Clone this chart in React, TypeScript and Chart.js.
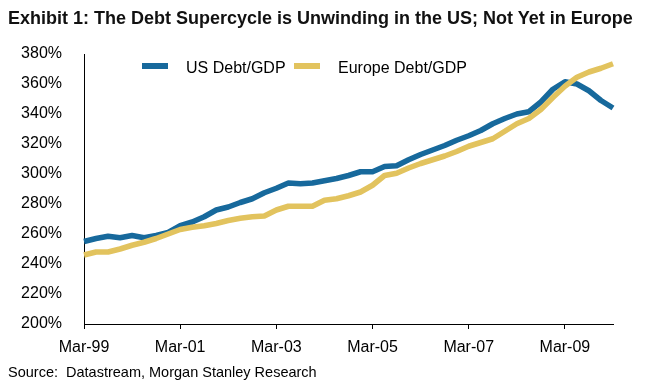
import React, { useEffect, useRef } from "react";
import { Chart, registerables } from "chart.js";

Chart.register(...registerables);

const TITLE = "Exhibit 1: The Debt Supercycle is Unwinding in the US; Not Yet in Europe";
const SOURCE = "Source:  Datastream, Morgan Stanley Research";

const quarters = [
  "Mar-99", "Jun-99", "Sep-99", "Dec-99",
  "Mar-00", "Jun-00", "Sep-00", "Dec-00",
  "Mar-01", "Jun-01", "Sep-01", "Dec-01",
  "Mar-02", "Jun-02", "Sep-02", "Dec-02",
  "Mar-03", "Jun-03", "Sep-03", "Dec-03",
  "Mar-04", "Jun-04", "Sep-04", "Dec-04",
  "Mar-05", "Jun-05", "Sep-05", "Dec-05",
  "Mar-06", "Jun-06", "Sep-06", "Dec-06",
  "Mar-07", "Jun-07", "Sep-07", "Dec-07",
  "Mar-08", "Jun-08", "Sep-08", "Dec-08",
  "Mar-09", "Jun-09", "Sep-09", "Dec-09",
  "Mar-10",
];

const usDebtGdp = [
  255, 257, 258.5, 257.5, 259, 257.5, 259, 261,
  265.5, 268, 271.5, 276, 278, 281, 283.5, 287.5,
  290.5, 294, 293.5, 294, 295.5, 297, 299, 301.5,
  301.5, 305, 305.5, 309.5, 313, 316, 319, 322.5,
  325.5, 329, 333.5, 337, 340, 341.5, 348, 356.5,
  361.5, 360, 355.5, 349, 344,
];

const europeDebtGdp = [
  246, 248, 248, 250, 252.5, 254.5, 257, 260,
  263, 264.5, 265.5, 267, 269, 270.5, 271.5, 272,
  276, 278.5, 278.5, 278.5, 282.5, 283.5, 285.5, 288,
  292.5, 299, 300.5, 304, 307, 309.5, 312, 315,
  318.5, 321, 323.5, 328.5, 333.5, 337, 343, 351,
  358.5, 364.5, 368, 370.5, 373.5,
];

const seriesNames = ["US Debt/GDP", "Europe Debt/GDP"];
const US_COLOR = "#17699C";
const EU_COLOR = "#E2C35E";
const FONT = "'Liberation Sans', Arial, sans-serif";

export default function App() {
  const ref = useRef<HTMLCanvasElement | null>(null);

  useEffect(() => {
    if (!ref.current) return;
    const chart = new Chart(ref.current, {
      type: "line",
      data: {
        labels: quarters,
        datasets: [
          {
            label: seriesNames[0],
            data: usDebtGdp,
            borderColor: US_COLOR,
            backgroundColor: US_COLOR,
            borderWidth: 5.5,
            pointRadius: 0,
            tension: 0,
            borderJoinStyle: "round",
            order: 1,
          },
          {
            label: seriesNames[1],
            data: europeDebtGdp,
            borderColor: EU_COLOR,
            backgroundColor: EU_COLOR,
            borderWidth: 5.5,
            pointRadius: 0,
            tension: 0,
            borderJoinStyle: "round",
            order: 0,
          },
        ],
      },
      options: {
        responsive: false,
        animation: false,
        layout: { padding: { top: 54, right: 33, bottom: 0, left: 0 } },
        plugins: {
          legend: { display: false },
          title: { display: false },
          tooltip: { enabled: false },
        },
        scales: {
          x: {
            type: "category",
            offset: false,
            afterFit: (s: any) => {
              s.height = 67;
            },
            grid: {
              display: true,
              drawOnChartArea: false,
              drawTicks: true,
              tickLength: 5,
              color: (ctx: any) => (ctx.index % 8 === 0 ? "#000" : "rgba(0,0,0,0)"),
            },
            border: { display: true, color: "#000", width: 1 },
            ticks: {
              autoSkip: false,
              maxRotation: 0,
              minRotation: 0,
              padding: 9,
              color: "#000",
              font: { family: FONT, size: 16 },
              callback: (_v: any, i: number) => (i % 8 === 0 ? quarters[i] : ""),
            },
          },
          y: {
            min: 200,
            max: 380,
            afterFit: (s: any) => {
              s.width = 84;
            },
            grid: { display: false, drawTicks: false },
            border: { display: true, color: "#000", width: 1 },
            ticks: {
              stepSize: 20,
              padding: 22,
              color: "#000",
              font: { family: FONT, size: 16 },
              callback: (v: any) => `${v}%`,
            },
          },
        },
      },
    });
    return () => chart.destroy();
  }, []);

  return (
    <div style={{ position: "fixed", left: 0, top: 0, width: 646, height: 391, background: "#fff", fontFamily: FONT }}>
      <canvas ref={ref} width={646} height={391} style={{ position: "absolute", left: 0, top: 0 }} />
      <div style={{ position: "absolute", left: 8, top: 7, fontSize: 18, fontWeight: "bold", color: "#111", whiteSpace: "nowrap", lineHeight: "22px" }}>
        {TITLE}
      </div>
      <div style={{ position: "absolute", left: 142, top: 63, width: 26, height: 6, background: US_COLOR }} />
      <div style={{ position: "absolute", left: 186, top: 58, fontSize: 16, color: "#000", whiteSpace: "nowrap", lineHeight: "20px" }}>
        {seriesNames[0]}
      </div>
      <div style={{ position: "absolute", left: 294, top: 63, width: 26, height: 6, background: EU_COLOR }} />
      <div style={{ position: "absolute", left: 338, top: 58, fontSize: 16, color: "#000", whiteSpace: "nowrap", lineHeight: "20px" }}>
        {seriesNames[1]}
      </div>
      <div style={{ position: "absolute", left: 8, top: 363, fontSize: 14.5, color: "#000", whiteSpace: "pre", lineHeight: "18px" }}>
        {SOURCE}
      </div>
    </div>
  );
}
